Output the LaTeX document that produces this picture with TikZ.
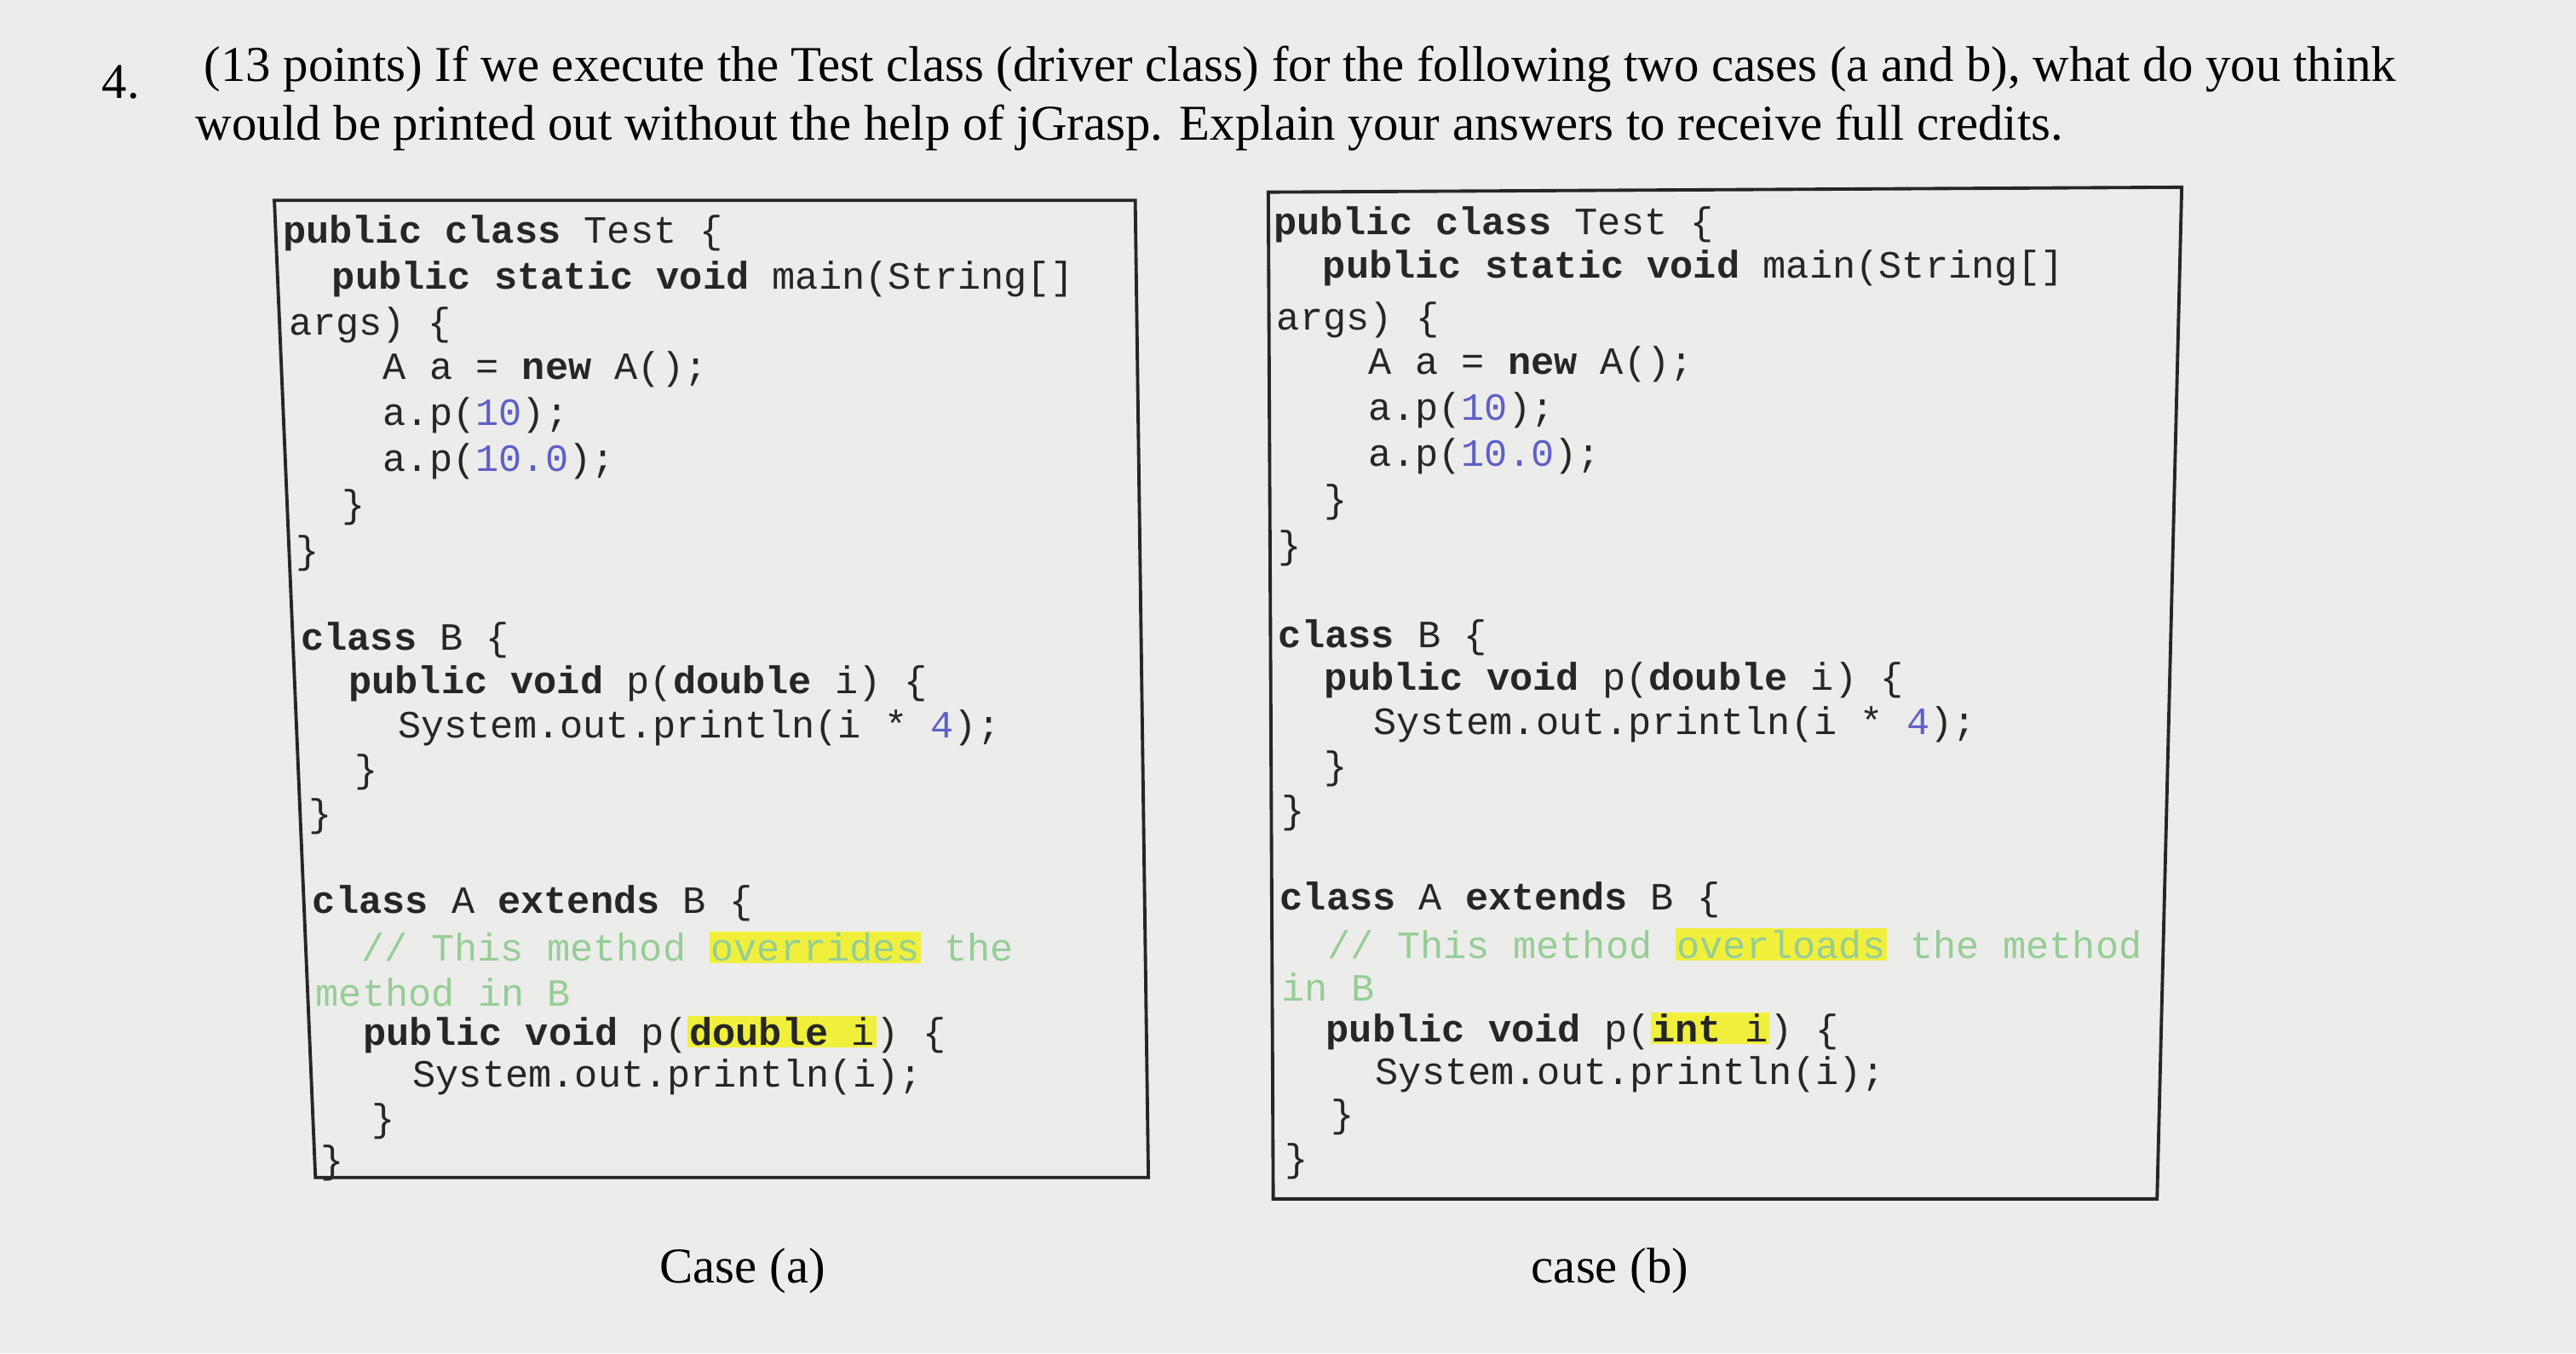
\documentclass[tikz,border=0pt]{standalone}
\usepackage{fontspec}
\setmainfont{Liberation Serif}
\setmonofont{Liberation Mono}
\definecolor{bg}{RGB}{236,236,234}
\definecolor{num}{RGB}{95,95,200}
\definecolor{cmt}{RGB}{150,205,150}
\definecolor{hl}{RGB}{240,240,60}
\newcounter{cln}
\newcommand{\kw}[1]{\textbf{#1}}
\newcommand{\nm}[1]{\textcolor{num}{#1}}
\newcommand{\hlt}[1]{\colorbox{hl}{#1}}
\newcommand{\cl}[3]{\stepcounter{cln}\node[codeline] (c\arabic{cln}) at (#1,#2) {#3};}
\begin{document}
\begin{tikzpicture}[x=1pt,y=-1pt,
  codeline/.style={anchor=west,inner sep=0pt,font=\fontsize{23.5}{26}\ttfamily,text=black!85},
  title/.style={anchor=west,inner sep=0pt,font=\fontsize{30.5}{34}\selectfont},
  frame/.style={draw=black!85,line width=2pt}]
\setlength{\fboxsep}{1pt}
\fill[bg] (0,0) rectangle (1568,824);
\useasboundingbox (0,0) rectangle (1568,824);
\node[title] (n4) at (62,50) {4.};
\node[title] (t1) at (124,42) {(13 points) If we execute the Test class (driver class) for the following two cases (a and b), what do you think};
\node[title] (t2) at (119,78) {would be printed out without the help of jGrasp. Explain your answers to receive full credits.};
\draw[frame] (167,122) -- (691,122) -- (699,717) -- (192,717) -- cycle;
\draw[frame] (772,117) -- (1328,114) -- (1313,730) -- (775,730) -- cycle;
% left
\cl{172}{142}{\kw{public class} Test \{}
\cl{202}{170}{\kw{public static void} main(String[]}
\cl{176}{198}{args) \{}
\cl{233}{225}{A a = \kw{new} A();}
\cl{233}{253}{a.p(\nm{10});}
\cl{233}{281}{a.p(\nm{10.0});}
\cl{208}{309}{\}}
\cl{180}{337}{\}}
\cl{183}{390}{\kw{class} B \{}
\cl{212}{416}{\kw{public void} p(\kw{double} i) \{}
\cl{242}{443}{System.out.println(i * \nm{4});}
\cl{216}{470}{\}}
\cl{188}{497}{\}}
\cl{190}{550}{\kw{class} A \kw{extends} B \{}
\cl{220}{577}{\textcolor{cmt}{// This method \hlt{overrides} the}}
\cl{192}{604}{\textcolor{cmt}{method in B}}
\cl{221}{630}{\kw{public void} p(\hlt{\kw{double} i}) \{}
\cl{251}{656}{System.out.println(i);}
\cl{226}{683}{\}}
\cl{195}{708}{\}}
% right
\cl{775}{137}{\kw{public class} Test \{}
\cl{805}{163}{\kw{public static void} main(String[]}
\cl{777}{195}{args) \{}
\cl{833}{222}{A a = \kw{new} A();}
\cl{833}{250}{a.p(\nm{10});}
\cl{833}{278}{a.p(\nm{10.0});}
\cl{806}{306}{\}}
\cl{778}{334}{\}}
\cl{778}{388}{\kw{class} B \{}
\cl{806}{414}{\kw{public void} p(\kw{double} i) \{}
\cl{836}{441}{System.out.println(i * \nm{4});}
\cl{806}{468}{\}}
\cl{780}{495}{\}}
\cl{779}{548}{\kw{class} A \kw{extends} B \{}
\cl{808}{575}{\textcolor{cmt}{// This method \hlt{overloads} the method}}
\cl{780}{601}{\textcolor{cmt}{in B}}
\cl{807}{628}{\kw{public void} p(\hlt{\kw{int} i}) \{}
\cl{837}{654}{System.out.println(i);}
\cl{810}{680}{\}}
\cl{782}{707}{\}}
\node[title,anchor=center] (ca) at (452,774) {Case (a)};
\node[title,anchor=center] (cb) at (980,774) {case (b)};
\end{tikzpicture}
\end{document}
